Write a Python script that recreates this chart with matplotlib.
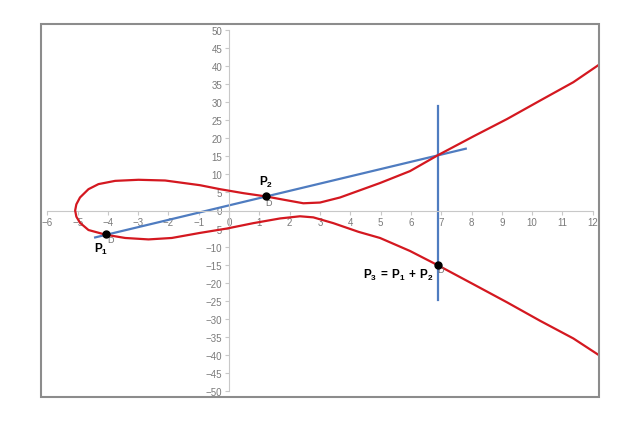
import numpy as np
import matplotlib.pyplot as plt
from matplotlib.patches import Rectangle

# curve points: lower branch right->left, round the tip, upper branch left->right
curve_x = [12.2, 11.36, 10.26, 9.17, 8.06, 6.9, 5.97, 4.98, 4.27, 3.44, 2.78, 2.34, 1.68, 0.80,
           -0.08, -0.96, -1.89, -2.66, -3.43, -4.07, -4.64, -4.92, -5.04, -5.08,
           -5.04, -4.92, -4.64, -4.31, -3.76, -2.99, -2.11, -0.96, -0.30, 0.47, 1.21,
           1.79, 2.45, 3.0, 3.66, 4.32, 4.98, 5.97, 6.89, 8.06, 9.17, 10.26, 11.36, 12.2]
curve_y = [-40.0, -35.4, -30.5, -25.4, -20.4, -15.2, -11.2, -7.6, -5.9, -3.5, -1.9, -1.6, -2.2, -3.5,
           -5.0, -6.2, -7.6, -8.0, -7.6, -6.7, -5.4, -3.4, -1.7, 0.0,
           1.7, 3.6, 5.9, 7.3, 8.2, 8.5, 8.3, 7.0, 5.9, 4.8, 3.9,
           3.0, 2.0, 2.2, 3.6, 5.6, 7.6, 10.9, 15.3, 20.5, 25.3, 30.4, 35.5, 40.3]

# chord through P1 and P2, and the vertical through the third point
chord_x = [-4.42, 7.81]
chord_y = [-7.45, 17.1]
vert_x = [6.9, 6.9]
vert_y = [-24.7, 28.8]

points_x = [-4.06, 1.21, 6.9]
points_y = [-6.5, 3.9, -15.2]

x_ticks = list(range(-6, 13))
y_ticks = list(range(-50, 51, 5))

plt.rcParams['mathtext.fontset'] = 'custom'
plt.rcParams['mathtext.rm'] = 'Liberation Sans'
plt.rcParams['mathtext.bf'] = 'Liberation Sans:bold'
plt.rcParams['font.family'] = 'Liberation Sans'

fig = plt.figure(figsize=(6.4, 4.39), dpi=100)
ax = fig.add_axes([41.2 / 640, 41 / 439, 557.6 / 640, 373 / 439])

ax.plot(curve_x, curve_y, color='#d41820', lw=1.6, solid_joinstyle='round', zorder=3)
ax.plot(chord_x, chord_y, color='#4f7cc0', lw=1.6, zorder=2)
ax.plot(vert_x, vert_y, color='#4f7cc0', lw=1.6, zorder=2)
ax.plot(points_x, points_y, 'o', color='black', ms=5, zorder=4)

ax.set_xlim(-6.2, 12.2)
ax.set_ylim(-51.6, 51.6)

# axes through the origin, like the spreadsheet chart
for side in ['top', 'right']:
    ax.spines[side].set_visible(False)
ax.spines['left'].set_position(('data', 0))
ax.spines['bottom'].set_position(('data', 0))
ax.spines['left'].set_bounds(-50, 50)
ax.spines['bottom'].set_bounds(-6, 12)
for side in ['left', 'bottom']:
    ax.spines[side].set_color('#c8c8c8')
    ax.spines[side].set_linewidth(0.8)

ax.set_xticks(x_ticks)
ax.set_yticks(y_ticks)
ax.tick_params(colors='#c8c8c8', labelcolor='#7a7a7a', labelsize=7,
               length=3, width=0.8, direction='out', pad=2)
ax.patch.set_visible(False)

# labels
ax.text(-4.22, -10.4, r'$\mathbf{P_1}$', fontsize=8.5, ha='center', va='center')
ax.text(1.22, 7.9, r'$\mathbf{P_2}$', fontsize=8.5, ha='center', va='center')
ax.text(6.75, -17.6, r'$\mathbf{P_3\,=\,P_1\,+\,P_2}$', fontsize=8.5, ha='right', va='center')
for dx, dy in [(-3.92, -8.0), (1.3, 2.3), (6.98, -16.4)]:
    ax.text(dx, dy, 'D', fontsize=6.5, color='#707070', ha='center', va='center')

# outer chart border
fig.patches.append(Rectangle((41 / 640, 41 / 439), 558 / 640, 373 / 439,
                             transform=fig.transFigure, fill=False,
                             edgecolor='#8c8c8c', lw=1.5))

fig.savefig('out.png', dpi=100)
